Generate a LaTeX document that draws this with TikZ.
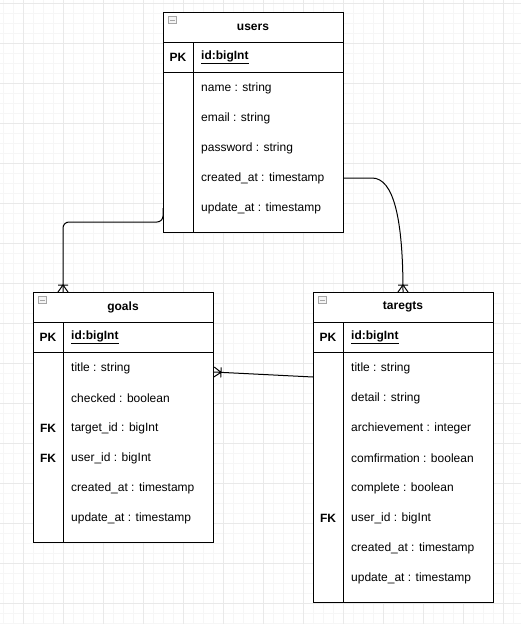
\documentclass[tikz,border=0pt]{standalone}
\usepackage{fontspec}
\setmainfont{Liberation Sans}
\usetikzlibrary{arrows.meta}

% crow's foot with bar (one or many)
\pgfdeclarearrow{
  name = Crow,
  parameters = {\the\pgfarrowlength,\the\pgfarrowwidth},
  setup code = {
    \pgfarrowssettipend{0pt}
    \pgfarrowssetlineend{0pt}
    \pgfarrowssetvisualbackend{-\pgfarrowlength}
    \pgfarrowssetbackend{-\pgfarrowlength}
    \pgfarrowshullpoint{0pt}{.5\pgfarrowwidth}
    \pgfarrowshullpoint{0pt}{-.5\pgfarrowwidth}
    \pgfarrowshullpoint{-\pgfarrowlength}{.5\pgfarrowwidth}
    \pgfarrowshullpoint{-\pgfarrowlength}{-.5\pgfarrowwidth}
    \pgfarrowssavethe\pgfarrowlength
    \pgfarrowssavethe\pgfarrowwidth
  },
  drawing code = {
    \pgfsetdash{}{0pt}
    \pgfpathmoveto{\pgfqpoint{0pt}{.5\pgfarrowwidth}}
    \pgfpathlineto{\pgfqpoint{-\pgfarrowlength}{0pt}}
    \pgfpathlineto{\pgfqpoint{0pt}{-.5\pgfarrowwidth}}
    \pgfpathmoveto{\pgfqpoint{-\pgfarrowlength}{.5\pgfarrowwidth}}
    \pgfpathlineto{\pgfqpoint{-\pgfarrowlength}{-.5\pgfarrowwidth}}
    \pgfusepathqstroke
  },
  defaults = {length = 7pt, width = 10pt}
}

\begin{document}
\begin{tikzpicture}[x=1pt, y=-1pt,
    font=\fontsize{12}{14}\selectfont,
    minor/.style={draw=gray!7, line width=0.6pt},
    major/.style={draw=gray!17, line width=0.8pt},
    entity/.style={draw, line width=1pt, fill=white, anchor=north west, inner sep=0pt, minimum width=180pt},
    title/.style={font=\fontsize{12}{14}\selectfont\bfseries},
    key/.style={font=\fontsize{12}{14}\selectfont\bfseries},
    field/.style={anchor=west, inner sep=0pt},
    fold/.style={draw=gray!70, fill=gray!8, line width=0.5pt, minimum width=8pt, minimum height=7pt, inner sep=0pt,
      path picture={\draw[gray!70, line width=0.6pt] ([xshift=1.5pt]path picture bounding box.west) -- ([xshift=-1.5pt]path picture bounding box.east);}},
    rel/.style={line width=1pt, -{Crow}}]

    \useasboundingbox (0,0) rectangle (521,624);

    % grid
    \foreach \gx in {3,13,...,521} \draw[minor] (\gx,0) -- (\gx,624);
    \foreach \gy in {3,13,...,624} \draw[minor] (0,\gy) -- (521,\gy);
    \foreach \gx in {23,63,...,521} \draw[major] (\gx,0) -- (\gx,624);
    \foreach \gy in {3,43,...,624} \draw[major] (0,\gy) -- (521,\gy);

    % users
    \node[entity, minimum height=220pt] (users) at (163,12) {};
    \draw[line width=1pt] (163,42) -- (343,42);
    \draw[line width=1pt] (163,72) -- (343,72);
    \draw[line width=1pt] (193,42) -- (193,232);
    \node[fold] at (172,20) {};
    \node[title] (users-t) at (253,27) {users};
    \node[key] (u-pk) at (178,57) {PK};
    \node[field] (u-id) at (201,57) {\bfseries\underline{id:bigInt}};
    \node[field] (u-name) at (201,88) {name : string};
    \node[field] (u-mail) at (201,118) {email : string};
    \node[field] (u-pass) at (201,148) {password : string};
    \node[field] (u-cre) at (201,178) {created\_at : timestamp};
    \node[field] (u-upd) at (201,208) {update\_at : timestamp};

    % goals
    \node[entity, minimum height=250pt] (goals) at (33,292) {};
    \draw[line width=1pt] (33,322) -- (213,322);
    \draw[line width=1pt] (33,352) -- (213,352);
    \draw[line width=1pt] (63,322) -- (63,542);
    \node[fold] at (42,300) {};
    \node[title] (goals-t) at (123,307) {goals};
    \node[key] (g-pk) at (48,337) {PK};
    \node[field] (g-id) at (71,337) {\bfseries\underline{id:bigInt}};
    \node[field] (g-title) at (71,368) {title : string};
    \node[field] (g-chk) at (71,398) {checked : boolean};
    \node[key] (g-fk1) at (48,428) {FK};
    \node[field] (g-tid) at (71,428) {target\_id : bigInt};
    \node[key] (g-fk2) at (48,458) {FK};
    \node[field] (g-uid) at (71,458) {user\_id : bigInt};
    \node[field] (g-cre) at (71,488) {created\_at : timestamp};
    \node[field] (g-upd) at (71,518) {update\_at : timestamp};

    % taregts
    \node[entity, minimum height=310pt] (targets) at (313,292) {};
    \draw[line width=1pt] (313,322) -- (493,322);
    \draw[line width=1pt] (313,352) -- (493,352);
    \draw[line width=1pt] (343,322) -- (343,602);
    \node[fold] at (322,300) {};
    \node[title] (targets-t) at (403,307) {taregts};
    \node[key] (t-pk) at (328,337) {PK};
    \node[field] (t-id) at (351,337) {\bfseries\underline{id:bigInt}};
    \node[field] (t-title) at (351,368) {title : string};
    \node[field] (t-det) at (351,398) {detail : string};
    \node[field] (t-ach) at (351,428) {archievement : integer};
    \node[field] (t-conf) at (351,458) {comfirmation : boolean};
    \node[field] (t-comp) at (351,488) {complete : boolean};
    \node[key] (t-fk) at (328,518) {FK};
    \node[field] (t-uid) at (351,518) {user\_id : bigInt};
    \node[field] (t-cre) at (351,548) {created\_at : timestamp};
    \node[field] (t-upd) at (351,578) {update\_at : timestamp};

    % relations
    \coordinate (g-in) at (63,292);
    \coordinate (t-in) at (403,292);
    \draw[rel, rounded corners=6pt] (users.west |- u-upd) -- ++(0,14) -| (g-in);
    \draw[rel] (users.east |- u-cre) -- ++(28,0) .. controls +(22,0) and +(0,-72) .. (t-in);
    \draw[rel] (targets.west |- 0,377) -- (goals.east |- 0,372);
\end{tikzpicture}
\end{document}
